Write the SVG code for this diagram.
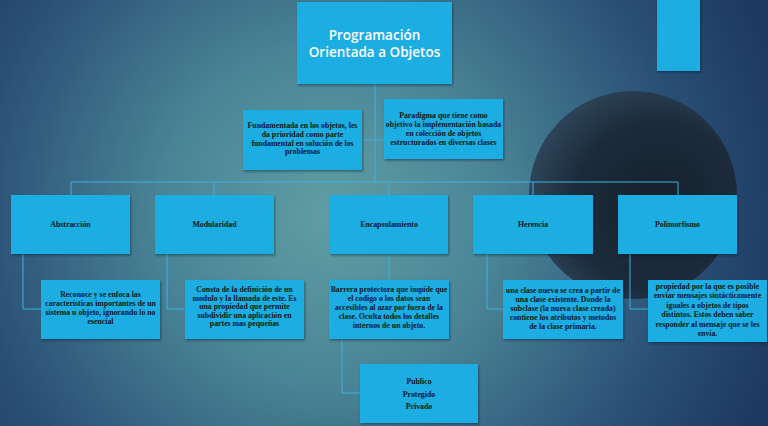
<svg xmlns="http://www.w3.org/2000/svg" width="768" height="426" viewBox="0 0 768 426">
<defs>
<radialGradient id="bg" cx="330" cy="215" r="470" gradientUnits="userSpaceOnUse">
<stop offset="0" stop-color="#5f9ea3"/>
<stop offset="0.35" stop-color="#4a8596"/>
<stop offset="0.75" stop-color="#2a5076"/>
<stop offset="1" stop-color="#1d3960"/>
</radialGradient>
<radialGradient id="orb" cx="0.62" cy="0.55" r="0.62">
<stop offset="0" stop-color="#15202c"/>
<stop offset="0.65" stop-color="#1c2b3b"/>
<stop offset="1" stop-color="#2d4458"/>
</radialGradient>
<filter id="sh" x="-10%" y="-10%" width="125%" height="130%">
<feDropShadow dx="1" dy="1.5" stdDeviation="1" flood-color="#0a1a2a" flood-opacity="0.45"/>
</filter>
<style>
.box{fill:#1fade3;filter:url(#sh)}
.t{font-family:"Liberation Serif","Times New Roman",serif;font-weight:bold;font-size:7.8px;fill:#0c1822;text-anchor:middle}
.title{font-family:"Open Sans","Noto Sans",sans-serif;font-weight:600;font-size:13.5px;fill:#ffffff;text-anchor:middle}
.c{fill:none;stroke:#3db2df;stroke-width:1}
</style>
</defs>
<rect width="768" height="426" fill="url(#bg)"/>
<circle cx="633" cy="195" r="104" fill="url(#orb)"/>
<rect x="657" y="0" width="43" height="71" class="box"/>

<g id="connectors">
<path class="c" d="M375 84V182"/>
<path class="c" d="M362 140H384"/>
<path class="c" d="M71 195V182H678V195"/>
<path class="c" d="M214 182V195"/>
<path class="c" d="M389 182V195"/>
<path class="c" d="M533 182V195"/>
<path class="c" d="M23 254V309H41"/>
<path class="c" d="M167 254V309H185"/>
<path class="c" d="M389 254V280"/>
<path class="c" d="M342 339V393H360"/>
<path class="c" d="M487 254V309H503"/>
<path class="c" d="M630 254V309H648"/>
</g>

<g id="title">
<rect x="297" y="2" width="155" height="82" class="box"/>
<text class="title" x="374.5" y="40">Programación</text>
<text class="title" x="374.5" y="57">Orientada a Objetos</text>
</g>

<g id="fundamentada">
<rect x="243" y="110" width="119" height="60" class="box"/>
<text class="t" x="302.5" y="128">Fundamentada en los objetos, les</text>
<text class="t" x="302.5" y="137">da prioridad como parte</text>
<text class="t" x="302.5" y="145.5">fundamental en solución de los</text>
<text class="t" x="302.5" y="154">problemas</text>
</g>

<g id="paradigma">
<rect x="384" y="99" width="119" height="60" class="box"/>
<text class="t" x="443.5" y="118">Paradigma que tiene como</text>
<text class="t" x="443.5" y="127">objetivo la implementación basada</text>
<text class="t" x="443.5" y="136">en colección de objetos</text>
<text class="t" x="443.5" y="144.5">estructurados en diversas clases</text>
</g>

<g id="abstraccion">
<rect x="11" y="195" width="119" height="59" class="box"/>
<text class="t" x="70.5" y="227">Abstracción</text>
</g>
<g id="modularidad">
<rect x="155" y="195" width="119" height="59" class="box"/>
<text class="t" x="214.5" y="227">Modularidad</text>
</g>
<g id="encapsulamiento">
<rect x="330" y="195" width="118" height="59" class="box"/>
<text class="t" x="389" y="227">Encapsulamiento</text>
</g>
<g id="herencia">
<rect x="473" y="195" width="120" height="59" class="box"/>
<text class="t" x="533" y="227">Herencia</text>
</g>
<g id="polimorfismo">
<rect x="618" y="195" width="119" height="59" class="box"/>
<text class="t" x="677.5" y="227">Polimorfismo</text>
</g>

<g id="abstraccion-desc">
<rect x="41" y="280" width="119" height="59" class="box"/>
<text class="t" x="100.5" y="297">Reconoce y se enfoca las</text>
<text class="t" x="100.5" y="306">características importantes de un</text>
<text class="t" x="100.5" y="315">sistema u objeto, ignorando lo no</text>
<text class="t" x="100.5" y="323.5">esencial</text>
</g>

<g id="modularidad-desc">
<rect x="185" y="280" width="119" height="59" class="box"/>
<text class="t" x="244.5" y="292">Consta de la definición de un</text>
<text class="t" x="244.5" y="300.5">modulo y la llamada de este. Es</text>
<text class="t" x="244.5" y="309">una propiedad que permite</text>
<text class="t" x="244.5" y="317.5">subdividir una aplicación en</text>
<text class="t" x="244.5" y="326">partes mas pequeñas</text>
</g>

<g id="encapsulamiento-desc">
<rect x="329" y="280" width="120" height="59" class="box"/>
<text class="t" x="389" y="292">Barrera protectora que impide que</text>
<text class="t" x="389" y="301">el codigo o los datos sean</text>
<text class="t" x="389" y="310">accesibles al azar por fuera de la</text>
<text class="t" x="389" y="319">clase. Oculta todos los detalles</text>
<text class="t" x="389" y="328">internos de un objeto.</text>
</g>

<g id="herencia-desc">
<rect x="503" y="280" width="120" height="59" class="box"/>
<text class="t" x="563" y="293">una clase nueva se crea a partir de</text>
<text class="t" x="563" y="302">una clase existente. Donde la</text>
<text class="t" x="563" y="311">subclase (la nueva clase creada)</text>
<text class="t" x="563" y="320">contiene los atributos y metodos</text>
<text class="t" x="563" y="329">de la clase primaria.</text>
</g>

<g id="polimorfismo-desc">
<rect x="648" y="280" width="119" height="62" class="box"/>
<text class="t" x="707.5" y="288.5">propiedad por la que es posible</text>
<text class="t" x="707.5" y="298">enviar mensajes sintácticamente</text>
<text class="t" x="707.5" y="307.5">iguales a objetos de tipos</text>
<text class="t" x="707.5" y="317">distintos. Estos deben saber</text>
<text class="t" x="707.5" y="326.5">responder al mensaje que se les</text>
<text class="t" x="707.5" y="336">envía.</text>
</g>

<g id="acceso">
<rect x="360" y="364" width="118" height="59" class="box"/>
<text class="t" x="419" y="384">Publico</text>
<text class="t" x="419" y="396.5">Protegido</text>
<text class="t" x="419" y="409">Privado</text>
</g>
</svg>
